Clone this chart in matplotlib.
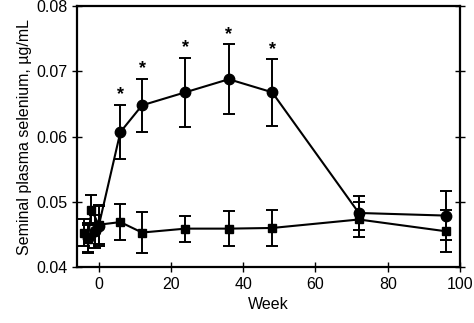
import matplotlib
matplotlib.use("Agg")
import matplotlib.pyplot as plt

plt.rcParams['font.family'] = ['Liberation Sans', 'DejaVu Sans']

# circles (supplemented group)
weeks_c = [-3, -1, 0, 6, 12, 24, 36, 48, 72, 96]
se_c = [0.0445, 0.0455, 0.0463, 0.0607, 0.0648, 0.0668, 0.0688, 0.0668, 0.0483, 0.0479]
err_c = [0.0022, 0.0025, 0.0030, 0.0042, 0.0041, 0.0053, 0.0054, 0.0051, 0.0026, 0.0038]

# squares (placebo group)
weeks_s = [-4, -3, -2, 0, 6, 12, 24, 36, 48, 72, 96]
se_s = [0.0453, 0.0443, 0.0488, 0.0465, 0.0469, 0.0453, 0.0459, 0.0459, 0.0460, 0.0473, 0.0455]
err_s = [0.0020, 0.0022, 0.0022, 0.0030, 0.0027, 0.0032, 0.0020, 0.0027, 0.0027, 0.0027, 0.0032]

star_weeks = [6, 12, 24, 36, 48]

fig = plt.figure(figsize=(4.74, 3.23), dpi=100)
ax = fig.add_axes([0.1625, 0.173, 0.808, 0.808])

ax.errorbar(weeks_s, se_s, yerr=err_s, fmt='-s', color='black', ms=6,
            lw=1.5, elinewidth=1.4, capsize=4.5, capthick=1.4)
ax.errorbar(weeks_c, se_c, yerr=err_c, fmt='-o', color='black', ms=7.5,
            lw=1.5, elinewidth=1.4, capsize=4.5, capthick=1.4)

for w in star_weeks:
    i = weeks_c.index(w)
    ax.text(w, se_c[i] + err_c[i] + 0.0002, '*', ha='center', va='bottom',
            fontsize=13, fontweight='bold')

ax.set_xlim(-6, 100)
ax.set_ylim(0.04, 0.08)
ax.set_xticks([0, 20, 40, 60, 80, 100])
ax.set_yticks([0.04, 0.05, 0.06, 0.07, 0.08])
ax.set_yticklabels(['0.04', '0.05', '0.06', '0.07', '0.08'])
ax.tick_params(direction='inout', length=7, width=1, labelsize=11.5, right=True)
for s in ax.spines.values():
    s.set_linewidth(1.6)

ax.set_xlabel('Week', fontsize=11.5)
ax.set_ylabel('Seminal plasma selenium, µg/mL', fontsize=11.5, labelpad=3)

fig.savefig('out.png', dpi=100)
